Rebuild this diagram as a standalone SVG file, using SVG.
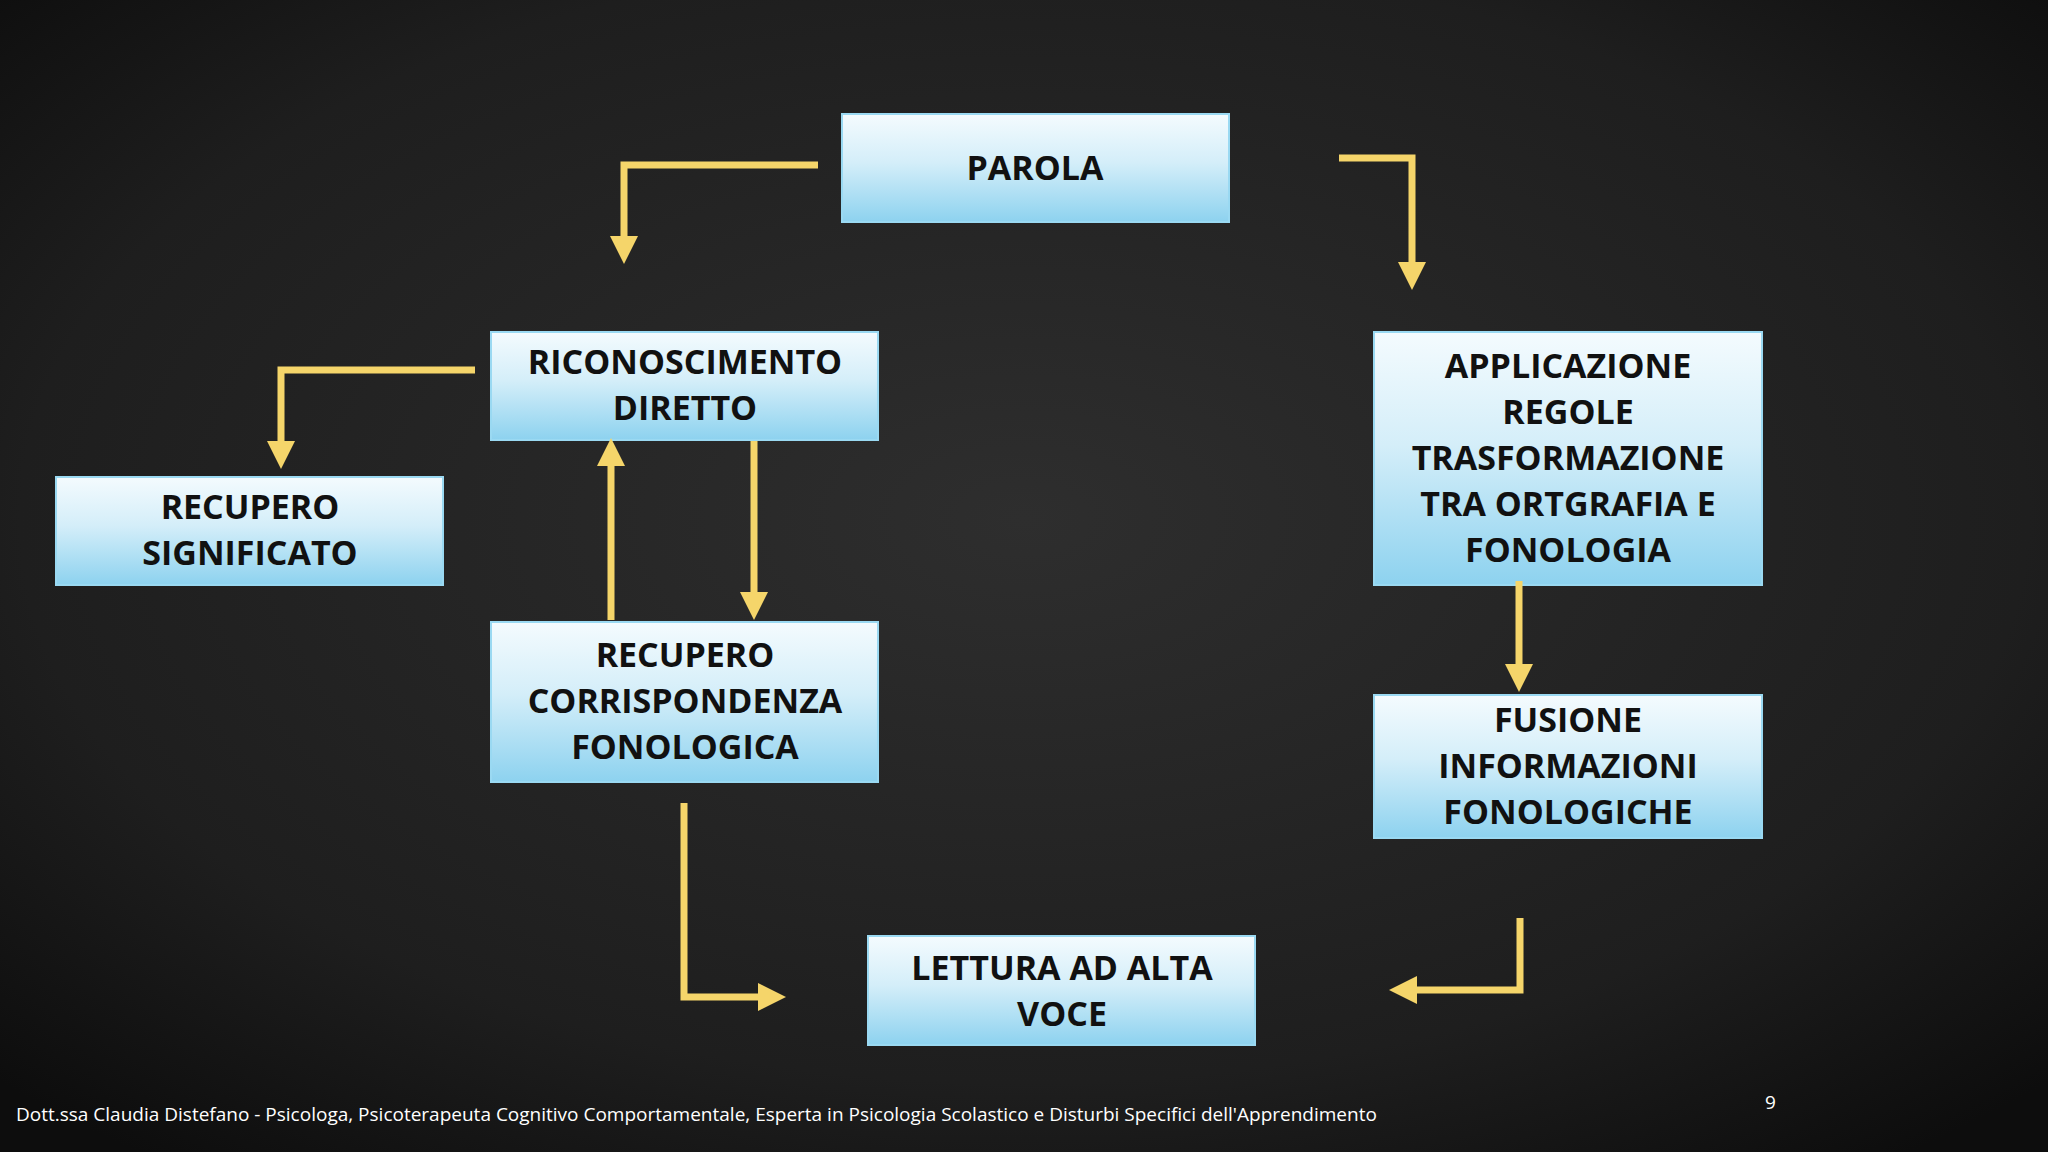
<svg xmlns="http://www.w3.org/2000/svg" width="2048" height="1152" viewBox="0 0 2048 1152">
<defs>
<radialGradient id="bg" cx="50%" cy="45%" r="70%">
<stop offset="0" stop-color="#2e2e2e"/><stop offset="0.7" stop-color="#1e1e1e"/><stop offset="1" stop-color="#0d0d0d"/>
</radialGradient>
<linearGradient id="box" x1="0" y1="0" x2="0" y2="1">
<stop offset="0" stop-color="#f4fbfe"/><stop offset="0.45" stop-color="#d4eef9"/><stop offset="1" stop-color="#8dd2ef"/>
</linearGradient>
<marker id="ah" markerWidth="4" markerHeight="4" refX="2" refY="2" orient="auto" markerUnits="strokeWidth">
<path d="M0,0 L4,2 L0,4 Z" fill="#f5d56a"/>
</marker>
<style>
.b{fill:url(#box);stroke:#9ad9f2;stroke-width:2}
.t{font-family:"Open Sans","Liberation Sans",sans-serif;font-weight:bold;font-size:34px;fill:#111;text-anchor:middle}
.c{fill:none;stroke:#f5d56a;stroke-width:7;marker-end:url(#ah)}
.f{font-family:"Open Sans","Liberation Sans",sans-serif;font-size:19px;fill:#fff}
</style>
</defs>
<rect width="2048" height="1152" fill="url(#bg)"/>
<g id="n-parola"><rect class="b" x="842" y="114" width="387" height="108"/><text class="t" x="1035" y="180">PAROLA</text></g>
<g id="n-ricon"><rect class="b" x="491" y="332" width="387" height="108"/><text class="t" x="685" y="374">RICONOSCIMENTO</text><text class="t" x="685" y="420">DIRETTO</text></g>
<g id="n-signif"><rect class="b" x="56" y="477" width="387" height="108"/><text class="t" x="250" y="519">RECUPERO</text><text class="t" x="250" y="565">SIGNIFICATO</text></g>
<g id="n-corr"><rect class="b" x="491" y="622" width="387" height="160"/><text class="t" x="685" y="667">RECUPERO</text><text class="t" x="685" y="713">CORRISPONDENZA</text><text class="t" x="685" y="759">FONOLOGICA</text></g>
<g id="n-appl"><rect class="b" x="1374" y="332" width="388" height="253"/><text class="t" x="1568" y="378">APPLICAZIONE</text><text class="t" x="1568" y="424">REGOLE</text><text class="t" x="1568" y="470">TRASFORMAZIONE</text><text class="t" x="1568" y="516">TRA ORTGRAFIA E</text><text class="t" x="1568" y="562">FONOLOGIA</text></g>
<g id="n-fus"><rect class="b" x="1374" y="695" width="388" height="143"/><text class="t" x="1568" y="732">FUSIONE</text><text class="t" x="1568" y="778">INFORMAZIONI</text><text class="t" x="1568" y="824">FONOLOGICHE</text></g>
<g id="n-lett"><rect class="b" x="868" y="936" width="387" height="109"/><text class="t" x="1062" y="980">LETTURA AD ALTA</text><text class="t" x="1062" y="1026">VOCE</text></g>
<g id="connectors">
<path class="c" d="M818,165 H624 V250"/>
<path class="c" d="M1339,158 H1412 V276"/>
<path class="c" d="M475,370 H281 V455"/>
<path class="c" d="M611,620 V452"/>
<path class="c" d="M754,441 V606"/>
<path class="c" d="M1519,581 V678"/>
<path class="c" d="M684,803 V997 H772"/>
<path class="c" d="M1520,918 V990 H1403"/>
</g>
<text class="f" x="16" y="1121">Dott.ssa Claudia Distefano - Psicologa, Psicoterapeuta Cognitivo Comportamentale, Esperta in Psicologia Scolastico e Disturbi Specifici dell'Apprendimento</text>
<text class="f" x="1765" y="1109">9</text>
</svg>
